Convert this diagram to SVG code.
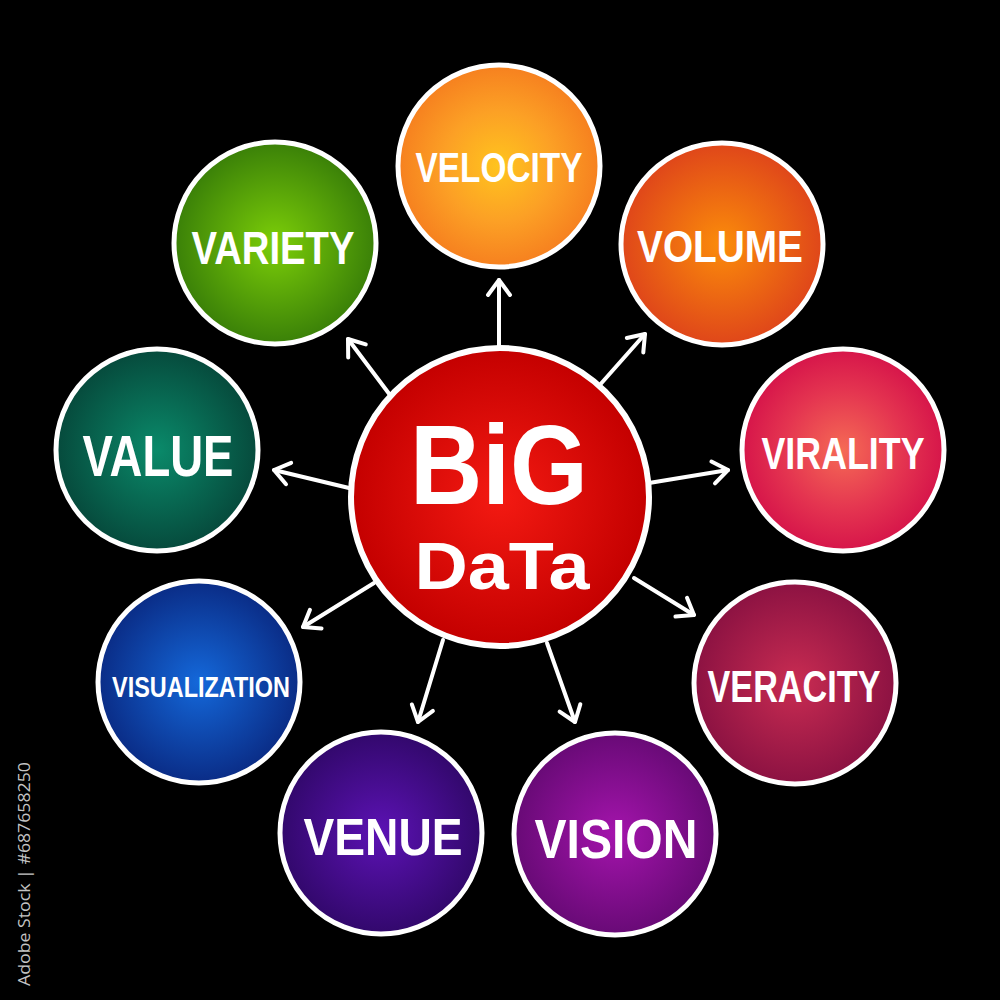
<svg xmlns="http://www.w3.org/2000/svg" width="1000" height="1000" viewBox="0 0 1000 1000">
<defs>
<style>
.node circle{stroke:#fff;stroke-width:5}
.lbl{font-family:"Liberation Sans","Open Sans",Arial,sans-serif;font-weight:700;fill:#fff;text-anchor:middle}
.conn line{stroke:#fff;stroke-width:4;stroke-linecap:round;fill:none}
.wm{font-family:"Open Sans","DejaVu Sans",sans-serif;fill:#c4c4c4}
</style>
<marker id="ah" viewBox="-20 -14 26 28" refX="0" refY="0" markerWidth="26" markerHeight="28" markerUnits="userSpaceOnUse" orient="auto">
<path d="M-15,-11 L0,0 L-15,11" fill="none" stroke="#fff" stroke-width="4" stroke-linecap="round" stroke-linejoin="round"/>
</marker>
<radialGradient id="gBig"><stop offset="0" stop-color="#f41a12"/><stop offset="1" stop-color="#c40000"/></radialGradient>
<radialGradient id="gVel"><stop offset="0" stop-color="#ffc41e"/><stop offset="0.55" stop-color="#fca025"/><stop offset="1" stop-color="#f6801f"/></radialGradient>
<radialGradient id="gVol"><stop offset="0" stop-color="#fb8c0a"/><stop offset="1" stop-color="#df461a"/></radialGradient>
<radialGradient id="gVir"><stop offset="0" stop-color="#f56a55"/><stop offset="0.6" stop-color="#e43450"/><stop offset="1" stop-color="#d6154a"/></radialGradient>
<radialGradient id="gVer"><stop offset="0" stop-color="#c92c52"/><stop offset="1" stop-color="#8c1242"/></radialGradient>
<radialGradient id="gVis"><stop offset="0" stop-color="#a414ac"/><stop offset="1" stop-color="#680a76"/></radialGradient>
<radialGradient id="gVen"><stop offset="0" stop-color="#5c12b4"/><stop offset="1" stop-color="#32086c"/></radialGradient>
<radialGradient id="gViz"><stop offset="0" stop-color="#1468da"/><stop offset="1" stop-color="#0a2c86"/></radialGradient>
<radialGradient id="gVal"><stop offset="0" stop-color="#0a8a6a"/><stop offset="1" stop-color="#064a3c"/></radialGradient>
<radialGradient id="gVar"><stop offset="0" stop-color="#7cce08"/><stop offset="1" stop-color="#3a8008"/></radialGradient>
</defs>
<rect width="1000" height="1000" fill="#000"/>

<g id="connectors" class="conn">
<line x1="499" y1="352" x2="499" y2="280" marker-end="url(#ah)"/>
<line x1="598" y1="387" x2="645" y2="334" marker-end="url(#ah)"/>
<line x1="649" y1="483" x2="728" y2="470" marker-end="url(#ah)"/>
<line x1="634" y1="578" x2="694" y2="615" marker-end="url(#ah)"/>
<line x1="547" y1="643" x2="575" y2="722" marker-end="url(#ah)"/>
<line x1="443" y1="640" x2="418" y2="722" marker-end="url(#ah)"/>
<line x1="374" y1="583" x2="303" y2="627" marker-end="url(#ah)"/>
<line x1="349" y1="488" x2="274" y2="470" marker-end="url(#ah)"/>
<line x1="390" y1="395" x2="348" y2="339" marker-end="url(#ah)"/>
</g>

<g id="node-bigdata" class="node">
<circle cx="500" cy="497" r="149" fill="url(#gBig)" style="stroke-width:6"/>
<text class="lbl" x="499" y="504" font-size="114" textLength="178" lengthAdjust="spacingAndGlyphs">BiG</text>
<text class="lbl" x="502" y="589" font-size="66" textLength="175" lengthAdjust="spacingAndGlyphs">DaTa</text>
</g>
<g id="node-velocity" class="node">
<circle cx="499" cy="166" r="101" fill="url(#gVel)"/>
<text class="lbl" x="499" y="182" font-size="43" textLength="167" lengthAdjust="spacingAndGlyphs">VELOCITY</text>
</g>
<g id="node-volume" class="node">
<circle cx="722" cy="244" r="101" fill="url(#gVol)"/>
<text class="lbl" x="720" y="262" font-size="44" textLength="166" lengthAdjust="spacingAndGlyphs">VOLUME</text>
</g>
<g id="node-virality" class="node">
<circle cx="843" cy="450" r="101" fill="url(#gVir)"/>
<text class="lbl" x="843" y="469" font-size="44" textLength="163" lengthAdjust="spacingAndGlyphs">VIRALITY</text>
</g>
<g id="node-veracity" class="node">
<circle cx="795" cy="683" r="101" fill="url(#gVer)"/>
<text class="lbl" x="794" y="702" font-size="44" textLength="173" lengthAdjust="spacingAndGlyphs">VERACITY</text>
</g>
<g id="node-vision" class="node">
<circle cx="615" cy="834" r="101" fill="url(#gVis)"/>
<text class="lbl" x="616" y="858" font-size="56" textLength="163" lengthAdjust="spacingAndGlyphs">VISION</text>
</g>
<g id="node-venue" class="node">
<circle cx="381" cy="833" r="101" fill="url(#gVen)"/>
<text class="lbl" x="383" y="855" font-size="52" textLength="159" lengthAdjust="spacingAndGlyphs">VENUE</text>
</g>
<g id="node-visualization" class="node">
<circle cx="199" cy="682" r="101" fill="url(#gViz)"/>
<text class="lbl" x="201" y="697" font-size="30" textLength="178" lengthAdjust="spacingAndGlyphs">VISUALIZATION</text>
</g>
<g id="node-value" class="node">
<circle cx="157" cy="450" r="101" fill="url(#gVal)"/>
<text class="lbl" x="158" y="476" font-size="57" textLength="151" lengthAdjust="spacingAndGlyphs">VALUE</text>
</g>
<g id="node-variety" class="node">
<circle cx="275" cy="243" r="101" fill="url(#gVar)"/>
<text class="lbl" x="273" y="264" font-size="46" textLength="163" lengthAdjust="spacingAndGlyphs">VARIETY</text>
</g>

<text class="wm" transform="translate(30,986) rotate(-90)" font-size="17" textLength="224" lengthAdjust="spacingAndGlyphs">Adobe Stock | #687658250</text>
</svg>
